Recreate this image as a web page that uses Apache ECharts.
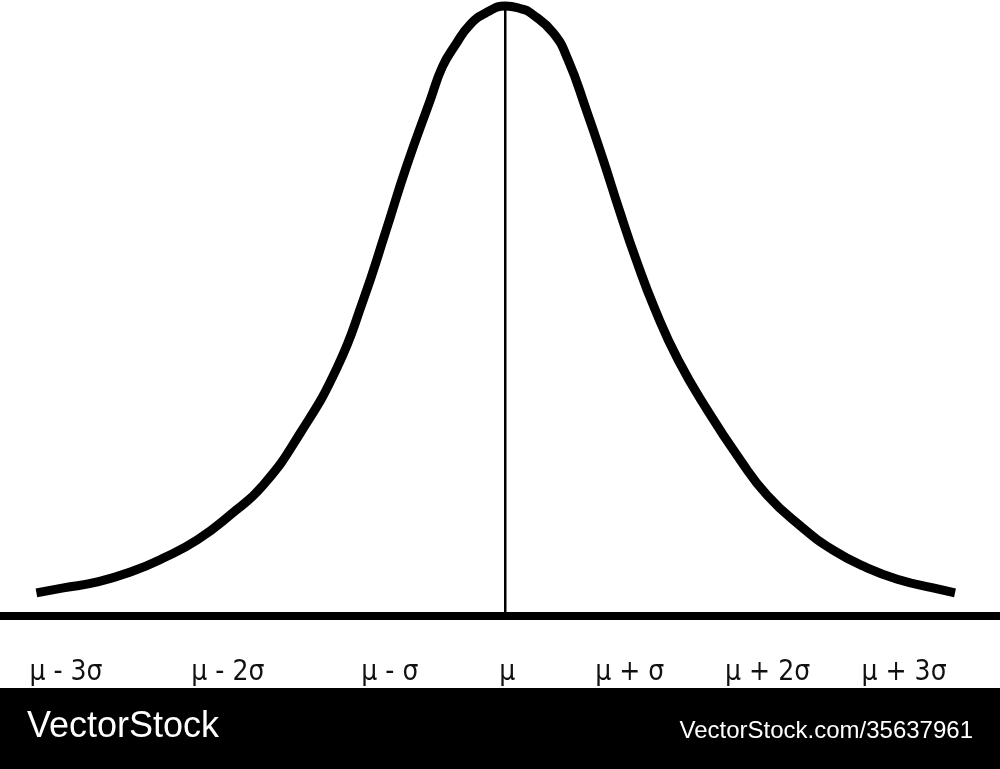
<!DOCTYPE html>
<html>
<head>
<meta charset="utf-8">
<script src="https://cdn.jsdelivr.net/npm/echarts@6/dist/echarts.min.js"></script>
<style>
  html, body { margin: 0; padding: 0; background: #fff; }
  #chart { width: 1000px; height: 769px; }
</style>
</head>
<body>
<div id="chart"></div>
<script>
// Curve points (x in σ-like units, y relative to peak height)
const curveX = [-3.127, -2.947, -2.72, -2.5, -2.28, -2.053, -1.833, -1.613, -1.367,
  -1.12, -0.947, -0.8, -0.66, -0.5, -0.42, -0.333, -0.233, -0.12, 0,
  0.113, 0.167, 0.32, 0.42, 0.54, 0.653, 0.76, 0.873, 1.0, 1.153,
  1.347, 1.567, 1.747, 1.967, 2.187, 2.413, 2.633, 2.853, 3.0];
const curveY = [0.038, 0.046, 0.056, 0.072, 0.095, 0.125, 0.166, 0.215, 0.300,
  0.408, 0.518, 0.628, 0.736, 0.846, 0.900, 0.936, 0.970, 0.990, 1.000,
  0.995, 0.989, 0.956, 0.911, 0.830, 0.748, 0.666, 0.584, 0.502, 0.420,
  0.338, 0.256, 0.198, 0.148, 0.108, 0.079, 0.059, 0.046, 0.038];
// Mean line
const meanX = [0, 0];
const meanY = [0, 1];
// Tick labels and where they sit on the x axis
const tickLabels = ['μ - 3σ', 'μ - 2σ', 'μ - σ', 'μ', 'μ + σ', 'μ + 2σ', 'μ + 3σ'];
const tickPos = [-2.93, -1.85, -0.77, 0.013, 0.83, 1.75, 2.66];

const chart = echarts.init(document.getElementById('chart'), null, { renderer: 'canvas' });

const curveData = curveX.map((x, i) => [x, curveY[i]]);
const meanData = meanX.map((x, i) => [x, meanY[i]]);

const option = {
  animation: false,
  backgroundColor: '#ffffff',
  grid: { left: 0, right: 0, top: 6, bottom: 153, containLabel: false },
  xAxis: {
    type: 'value',
    min: -3.37,
    max: 3.30,
    axisLine: { show: true, onZero: false, lineStyle: { color: '#000', width: 8 } },
    axisTick: { show: false },
    splitLine: { show: false },
    axisLabel: {
      show: true,
      customValues: tickPos,
      margin: 43,
      color: '#111',
      fontSize: 28,
      lineHeight: 28,
      fontFamily: "'Liberation Sans Narrow', 'DejaVu Sans Condensed', sans-serif",
      verticalAlign: 'top',
      formatter: function (value) {
        let best = 0, bd = Infinity;
        tickPos.forEach((p, i) => { const d = Math.abs(p - value); if (d < bd) { bd = d; best = i; } });
        return tickLabels[best];
      }
    }
  },
  yAxis: {
    type: 'value',
    min: 0,
    max: 1,
    show: false,
    splitLine: { show: false }
  },
  series: [
    {
      type: 'line',
      data: meanData,
      symbol: 'none',
      clip: false,
      z: 2,
      lineStyle: { color: '#000', width: 2.5 }
    },
    {
      type: 'line',
      data: curveData,
      smooth: 0.5,
      symbol: 'none',
      clip: false,
      z: 3,
      lineStyle: { color: '#000', width: 9, cap: 'butt', join: 'round' }
    }
  ],
  graphic: [
    { type: 'rect', z: 10, shape: { x: 0, y: 688, width: 1000, height: 81 }, style: { fill: '#000' } },
    { type: 'text', z: 11, x: 27, y: 727.5,
      style: { text: 'VectorStock', fill: '#fff', font: "36px 'Liberation Sans', Arial, sans-serif", align: 'left', verticalAlign: 'middle' } },
    { type: 'text', z: 11, x: 973, y: 731.5,
      style: { text: 'VectorStock.com/35637961', fill: '#fff', font: "24px 'Liberation Sans', Arial, sans-serif", align: 'right', verticalAlign: 'middle' } }
  ]
};

chart.setOption(option);
</script>
</body>
</html>
